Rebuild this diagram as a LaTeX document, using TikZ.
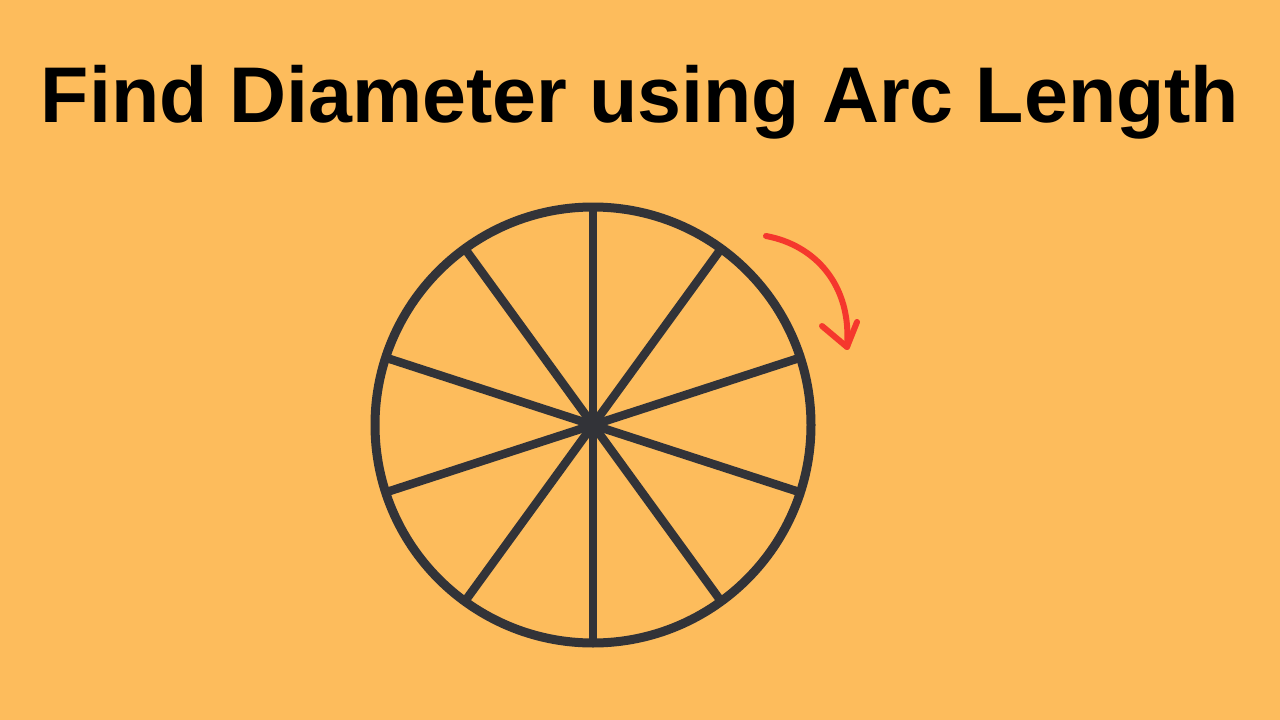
\documentclass[tikz,border=0pt]{standalone}
\usepackage{fontspec}
\setmainfont{Liberation Sans}
\definecolor{bg}{RGB}{253,188,92}
\definecolor{ink}{RGB}{50,51,56}
\definecolor{redarrow}{RGB}{245,55,45}
\begin{document}
\begin{tikzpicture}[x=1pt,y=-1pt,
  wheel/.style={draw=ink,line width=9pt},
  spoke/.style={draw=ink,line width=8.5pt,line cap=butt},
  redline/.style={draw=redarrow,line width=6pt,line cap=round,line join=round}]
\fill[bg] (0,0) rectangle (1280,720);
\useasboundingbox (0,0) rectangle (1280,720);
\node[anchor=base,inner sep=0pt,font=\fontsize{79}{95}\selectfont\bfseries] (title) at (640,122) {Find Diameter using Arc Length};
\coordinate (c) at (593,425);
\foreach \a in {90,54,18,-18,-54,-90,-126,-162,162,126}
  \draw[spoke] (c) -- ++(\a:218 and -218);
\draw[wheel] (c) circle (218);
\coordinate (s) at (766,236);
\coordinate (t) at (847,347);
\draw[redline] (s) .. controls (815,245) and (852,285) .. (t);
\draw[redline] (822,326) -- (t) -- (857,322);
\end{tikzpicture}
\end{document}
